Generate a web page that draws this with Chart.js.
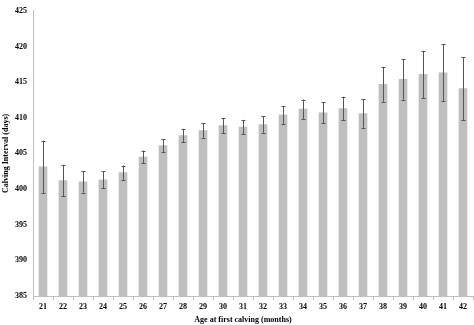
<!DOCTYPE html>
<html>
<head>
<meta charset="utf-8">
<script src="https://cdn.jsdelivr.net/npm/chart.js@4"></script>
<style>
html,body{margin:0;padding:0;background:#fff;}
#wrap{width:474px;height:325px;}
</style>
</head>
<body>
<div id="wrap"><canvas id="c" width="474" height="325"></canvas></div>
<script>
const ages = ['21','22','23','24','25','26','27','28','29','30','31','32','33','34','35','36','37','38','39','40','41','42'];
const calvingInterval = [403.1,401.2,401.0,401.3,402.3,404.5,406.1,407.5,408.2,408.9,408.7,409.05,410.4,411.2,410.7,411.3,410.6,414.7,415.4,416.1,416.3,414.1];
const errorSize = [3.7,2.2,1.5,1.2,1.0,0.9,0.9,0.95,1.0,1.05,1.0,1.15,1.25,1.35,1.45,1.65,2.0,2.45,2.85,3.3,4.0,4.4];
const yTicks = [385,390,395,400,405,410,415,420,425];
const xTitle = 'Age at first calving (months)';
const yTitle = 'Calving Interval (days)';

const fontFamily = '"Liberation Serif", "Times New Roman", serif';
const font = {family: fontFamily, size: 8, weight: 'bold'};

const errorBarPlugin = {
  id: 'errorBars',
  afterDatasetsDraw(chart) {
    const ctx = chart.ctx;
    const meta = chart.getDatasetMeta(0);
    const ys = chart.scales.y;
    ctx.save();
    ctx.strokeStyle = '#555555';
    ctx.lineWidth = 1;
    meta.data.forEach((bar, i) => {
      const x = Math.round(bar.x) + 0.5;
      const top = ys.getPixelForValue(calvingInterval[i] + errorSize[i]);
      const bot = ys.getPixelForValue(calvingInterval[i] - errorSize[i]);
      ctx.beginPath();
      ctx.moveTo(x, top); ctx.lineTo(x, bot);
      ctx.moveTo(x - 2, Math.round(top) + 0.5); ctx.lineTo(x + 2, Math.round(top) + 0.5);
      ctx.moveTo(x - 2, Math.round(bot) + 0.5); ctx.lineTo(x + 2, Math.round(bot) + 0.5);
      ctx.stroke();
    });
    ctx.restore();
  }
};

const xTitlePlugin = {
  id: 'xTitle',
  afterDraw(chart) {
    const ctx = chart.ctx;
    ctx.save();
    ctx.font = 'bold 8px ' + fontFamily;
    ctx.fillStyle = '#000';
    ctx.textAlign = 'center';
    ctx.textBaseline = 'middle';
    ctx.fillText(xTitle, 243, 320);
    ctx.restore();
  }
};

new Chart(document.getElementById('c'), {
  type: 'bar',
  data: {
    labels: ages,
    datasets: [{
      data: calvingInterval,
      backgroundColor: '#bfbfbf',
      borderWidth: 0,
      barThickness: 8
    }]
  },
  options: {
    responsive: false,
    animation: false,
    devicePixelRatio: 1,
    layout: {padding: {top: 3, right: 1, left: 0, bottom: 0}},
    plugins: {legend: {display: false}, tooltip: {enabled: false}},
    scales: {
      x: {
        offset: true,
        grid: {display: true, offset: true, drawOnChartArea: false, drawTicks: true, tickLength: 4, color: '#bfbfbf'},
        border: {display: true, color: '#bfbfbf'},
        ticks: {color: '#000', font: font, padding: 2, maxRotation: 0, autoSkip: false},
        title: {display: false},
        afterFit(scale) { scale.height = 29; }
      },
      y: {
        min: 385, max: 425,
        afterBuildTicks(scale) { scale.ticks = yTicks.map(v => ({value: v})); },
        grid: {display: false, drawTicks: false},
        border: {display: true, color: '#bfbfbf'},
        ticks: {color: '#000', font: font, padding: 6},
        title: {display: true, text: yTitle, color: '#000', font: font, padding: {top: 1, bottom: 0}},
        afterFit(scale) { scale.width = 33; }
      }
    }
  },
  plugins: [errorBarPlugin, xTitlePlugin]
});
</script>
</body>
</html>
